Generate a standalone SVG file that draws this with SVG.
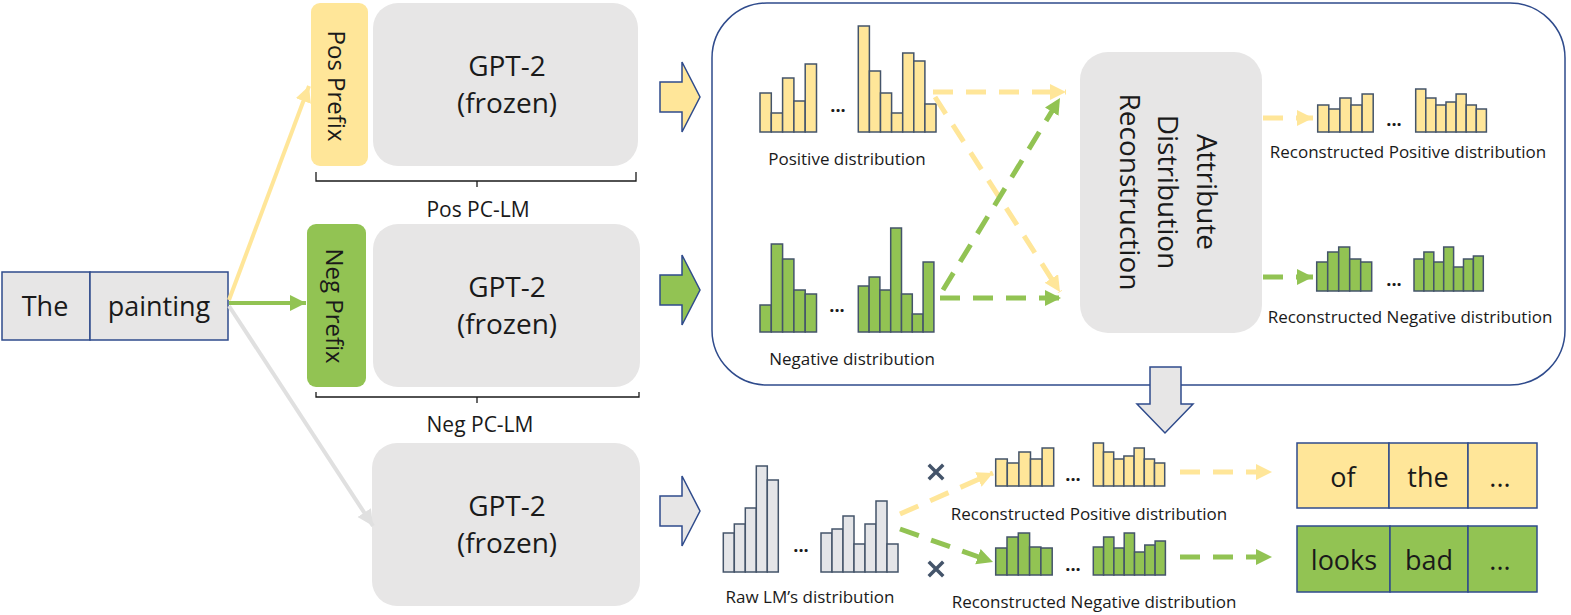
<svg xmlns="http://www.w3.org/2000/svg" width="1571" height="615" viewBox="0 0 1571 615">
<style>
text{font-family:"Open Sans","Noto Sans","Liberation Sans",sans-serif;fill:#1a1a1a}
.gbox{fill:#e7e6e6}
.tok{stroke:#2f4b8c;stroke-width:1.5}
.by rect{fill:#ffe699;stroke:#44546a;stroke-width:1.5}
.bg rect{fill:#92c353;stroke:#44546a;stroke-width:1.5}
.bw rect{fill:#e4e5e8;stroke:#44546a;stroke-width:1.5}
.blk{stroke:#2f4b8c;stroke-width:1.5;stroke-linejoin:miter}
.dy{stroke:#ffe699;stroke-width:5;stroke-dasharray:20 13;fill:none}
.dg{stroke:#92c353;stroke-width:5;stroke-dasharray:20 13;fill:none}
.lbl{font-size:17px;text-anchor:middle}
.dots{font-size:18px;font-weight:bold;text-anchor:middle}
.gpt{font-size:28px;text-anchor:middle}
.word{font-size:27px;text-anchor:middle}
.brace{fill:none;stroke:#1a1a1a;stroke-width:1.3}
.x{stroke:#44546a;stroke-width:3.5;stroke-linecap:square}
</style>
<defs>
<marker id="ay" markerUnits="userSpaceOnUse" markerWidth="18" markerHeight="18" refX="16" refY="8" orient="auto"><path d="M0,0 L16,8 L0,16 Z" fill="#ffe699"/></marker>
<marker id="ag" markerUnits="userSpaceOnUse" markerWidth="18" markerHeight="18" refX="16" refY="8" orient="auto"><path d="M0,0 L16,8 L0,16 Z" fill="#92c353"/></marker>
<marker id="aw" markerUnits="userSpaceOnUse" markerWidth="18" markerHeight="18" refX="16" refY="8" orient="auto"><path d="M0,0 L16,8 L0,16 Z" fill="#e0e0e0"/></marker>
</defs>

<g id="attr-panel">
<rect x="712" y="3" width="853" height="382" rx="55" fill="#ffffff" stroke="#2f4b8c" stroke-width="1.5"/>
</g>

<g id="input">
<rect class="gbox tok" x="2" y="272" width="88" height="68"/>
<rect class="gbox tok" x="90" y="272" width="138" height="68"/>
<text class="word" x="45" y="316">The</text>
<text class="word" x="159" y="316">painting</text>
</g>

<g id="pos-prefix">
<rect x="311" y="3" width="57" height="163" rx="9" fill="#ffe699"/>
<text transform="translate(328,86) rotate(90)" font-size="24" text-anchor="middle">Pos Prefix</text>
</g>
<g id="gpt-pos">
<rect class="gbox" x="373" y="3" width="265" height="163" rx="25"/>
<text class="gpt" x="507" y="76">GPT-2</text>
<text class="gpt" x="507" y="113">(frozen)</text>
</g>
<g id="pos-pclm">
<path class="brace" d="M316,172 V181 H636 V172 M477,181 V187"/>
<text x="478" y="217" font-size="21" text-anchor="middle">Pos PC-LM</text>
</g>

<g id="neg-prefix">
<rect x="307" y="224" width="59" height="163" rx="9" fill="#92c353"/>
<text transform="translate(326,306) rotate(90)" font-size="24" text-anchor="middle">Neg Prefix</text>
</g>
<g id="gpt-neg">
<rect class="gbox" x="373" y="224" width="267" height="163" rx="25"/>
<text class="gpt" x="507" y="297">GPT-2</text>
<text class="gpt" x="507" y="334">(frozen)</text>
</g>
<g id="neg-pclm">
<path class="brace" d="M316,392 V397 H639 V392 M477,397 V403"/>
<text x="480" y="432" font-size="21" text-anchor="middle">Neg PC-LM</text>
</g>

<g id="gpt-raw">
<rect class="gbox" x="372" y="443" width="268" height="163" rx="25"/>
<text class="gpt" x="507" y="516">GPT-2</text>
<text class="gpt" x="507" y="553">(frozen)</text>
</g>

<g id="block-arrows">
<path class="blk" fill="#ffe699" d="M660,82 H682 V62 L700,97 L682,132 V112 H660 Z"/>
<path class="blk" fill="#92c353" d="M660,275 H682 V255 L700,290 L682,325 V305 H660 Z"/>
<path class="blk" fill="#e7e6e6" d="M660,496 H682 V476 L700,511 L682,546 V526 H660 Z"/>
<path class="blk" fill="#e7e6e6" d="M1150,367 H1181 V404 H1193 L1165,433 L1137,404 H1150 Z"/>
</g>

<g id="pos-dist">
<g class="by">
<rect x="760" y="93" width="11.3" height="39"/><rect x="771.3" y="113" width="11.3" height="19"/><rect x="782.6" y="78" width="11.3" height="54"/><rect x="793.9" y="101" width="11.3" height="31"/><rect x="805.2" y="64" width="11.3" height="68"/>
<rect x="858.3" y="26" width="11.1" height="106"/><rect x="869.4" y="71" width="11.1" height="61"/><rect x="880.5" y="93" width="11.1" height="39"/><rect x="891.6" y="113" width="11.1" height="19"/><rect x="902.7" y="53" width="11.1" height="79"/><rect x="913.8" y="61" width="11.1" height="71"/><rect x="924.9" y="104" width="11.1" height="28"/>
</g>
<text class="dots" x="838" y="112">...</text>
<text class="lbl" x="847" y="165">Positive distribution</text>
</g>

<g id="neg-dist">
<g class="bg">
<rect x="760" y="305" width="11.3" height="27"/><rect x="771.3" y="244" width="11.3" height="88"/><rect x="782.6" y="259" width="11.3" height="73"/><rect x="793.9" y="290" width="11.3" height="42"/><rect x="805.2" y="294" width="11.3" height="38"/>
<rect x="858.3" y="286" width="10.8" height="46"/><rect x="869.1" y="277" width="10.8" height="55"/><rect x="879.9" y="290" width="10.8" height="42"/><rect x="890.7" y="228" width="10.8" height="104"/><rect x="901.5" y="294" width="10.8" height="38"/><rect x="912.3" y="314" width="10.8" height="18"/><rect x="923.1" y="262" width="10.8" height="70"/>
</g>
<text class="dots" x="837" y="312">...</text>
<text class="lbl" x="852" y="365">Negative distribution</text>
</g>

<g id="adr">
<rect class="gbox" x="1080" y="52" width="182" height="281" rx="28"/>
<g transform="translate(1197,192) rotate(90)" font-size="28" text-anchor="middle">
<text x="0" y="0">Attribute</text>
<text x="0" y="39">Distribution</text>
<text x="0" y="77">Reconstruction</text>
</g>
</g>

<g id="recon-pos-top">
<g class="by">
<rect x="1317.7" y="105" width="11.1" height="27"/><rect x="1328.8" y="109" width="11.1" height="23"/><rect x="1339.9" y="98" width="11.1" height="34"/><rect x="1351" y="105" width="11.1" height="27"/><rect x="1362.1" y="94" width="11.1" height="38"/>
<rect x="1415.7" y="89" width="10.1" height="43"/><rect x="1425.8" y="98" width="10.1" height="34"/><rect x="1435.9" y="105" width="10.1" height="27"/><rect x="1446" y="102" width="10.1" height="30"/><rect x="1456.1" y="94" width="10.1" height="38"/><rect x="1466.2" y="105" width="10.1" height="27"/><rect x="1476.3" y="109" width="10.1" height="23"/>
</g>
<text class="dots" x="1394" y="126">...</text>
<text class="lbl" x="1408" y="158">Reconstructed Positive distribution</text>
</g>

<g id="recon-neg-top">
<g class="bg">
<rect x="1316.7" y="262" width="11" height="29"/><rect x="1327.7" y="252" width="11" height="39"/><rect x="1338.7" y="247" width="11" height="44"/><rect x="1349.7" y="259" width="11" height="32"/><rect x="1360.7" y="262" width="11" height="29"/>
<rect x="1414" y="259" width="9.9" height="32"/><rect x="1423.9" y="252" width="9.9" height="39"/><rect x="1433.8" y="262" width="9.9" height="29"/><rect x="1443.7" y="247" width="9.9" height="44"/><rect x="1453.6" y="267" width="9.9" height="24"/><rect x="1463.5" y="259" width="9.9" height="32"/><rect x="1473.4" y="256" width="9.9" height="35"/>
</g>
<text class="dots" x="1394" y="286">...</text>
<text class="lbl" x="1410" y="323">Reconstructed Negative distribution</text>
</g>

<g id="raw-dist">
<g class="bw">
<rect x="723.3" y="533" width="11" height="39"/><rect x="734.3" y="524" width="11" height="48"/><rect x="745.3" y="508" width="11" height="64"/><rect x="756.3" y="466" width="11" height="106"/><rect x="767.3" y="480" width="11" height="92"/>
<rect x="821" y="533" width="11" height="39"/><rect x="832" y="529" width="11" height="43"/><rect x="843" y="516" width="11" height="56"/><rect x="854" y="544" width="11" height="28"/><rect x="865" y="524" width="11" height="48"/><rect x="876" y="501" width="11" height="71"/><rect x="887" y="544" width="11" height="28"/>
</g>
<text class="dots" x="801" y="552">...</text>
<text class="lbl" x="810" y="603">Raw LM’s distribution</text>
</g>

<g id="recon-pos-bottom">
<g class="by">
<rect x="995.7" y="459" width="11.6" height="27"/><rect x="1007.3" y="463" width="11.6" height="23"/><rect x="1018.9" y="452" width="11.6" height="34"/><rect x="1030.5" y="459" width="11.6" height="27"/><rect x="1042.1" y="448" width="11.6" height="38"/>
<rect x="1093.3" y="443" width="10.2" height="43"/><rect x="1103.5" y="452" width="10.2" height="34"/><rect x="1113.7" y="459" width="10.2" height="27"/><rect x="1123.9" y="456" width="10.2" height="30"/><rect x="1134.1" y="448" width="10.2" height="38"/><rect x="1144.3" y="459" width="10.2" height="27"/><rect x="1154.5" y="463" width="10.2" height="23"/>
</g>
<text class="dots" x="1073" y="481">...</text>
<text class="lbl" x="1089" y="520">Reconstructed Positive distribution</text>
</g>

<g id="recon-neg-bottom">
<g class="bg">
<rect x="995.7" y="548" width="11.3" height="27"/><rect x="1007" y="537" width="11.3" height="38"/><rect x="1018.3" y="533" width="11.3" height="42"/><rect x="1029.6" y="547" width="11.3" height="28"/><rect x="1040.9" y="548" width="11.3" height="27"/>
<rect x="1093.3" y="547" width="10.3" height="28"/><rect x="1103.6" y="537" width="10.3" height="38"/><rect x="1113.9" y="548" width="10.3" height="27"/><rect x="1124.2" y="533" width="10.3" height="42"/><rect x="1134.5" y="552" width="10.3" height="23"/><rect x="1144.8" y="545" width="10.3" height="30"/><rect x="1155.1" y="541" width="10.3" height="34"/>
</g>
<text class="dots" x="1073" y="571">...</text>
<text class="lbl" x="1094" y="608">Reconstructed Negative distribution</text>
</g>

<g id="out-pos">
<rect class="tok" fill="#ffe699" x="1297" y="443" width="92" height="65"/>
<rect class="tok" fill="#ffe699" x="1389" y="443" width="79" height="65"/>
<rect class="tok" fill="#ffe699" x="1468" y="443" width="69" height="65"/>
<text class="word" x="1343" y="487">of</text>
<text class="word" x="1428" y="487">the</text>
<text class="word" x="1500" y="487">...</text>
</g>
<g id="out-neg">
<rect class="tok" fill="#92c353" x="1297" y="526" width="93" height="66"/>
<rect class="tok" fill="#92c353" x="1390" y="526" width="78" height="66"/>
<rect class="tok" fill="#92c353" x="1468" y="526" width="69" height="66"/>
<text class="word" x="1344" y="570">looks</text>
<text class="word" x="1429" y="570">bad</text>
<text class="word" x="1500" y="570">...</text>
</g>

<g id="connectors">
<line x1="229" y1="300" x2="309" y2="86" stroke="#ffe699" stroke-width="4" marker-end="url(#ay)"/>
<line x1="229" y1="303" x2="306" y2="303" stroke="#92c353" stroke-width="4" marker-end="url(#ag)"/>
<line x1="229" y1="306" x2="373" y2="526" stroke="#e0e0e0" stroke-width="4" marker-end="url(#aw)"/>
<line class="dy" x1="933" y1="92" x2="1066" y2="92" marker-end="url(#ay)"/>
<line class="dy" x1="935" y1="97" x2="1060" y2="292" marker-end="url(#ay)"/>
<line class="dg" x1="943" y1="290" x2="1060" y2="98" marker-end="url(#ag)"/>
<line class="dg" x1="940" y1="298" x2="1061" y2="298" marker-end="url(#ag)"/>
<line class="dy" x1="1263" y1="118" x2="1313" y2="118" marker-end="url(#ay)"/>
<line class="dg" x1="1263" y1="277" x2="1313" y2="277" marker-end="url(#ag)"/>
<line class="dy" x1="900" y1="514" x2="993" y2="473" marker-end="url(#ay)"/>
<line class="dg" x1="900" y1="529" x2="993" y2="562" marker-end="url(#ag)"/>
<line class="dy" x1="1180" y1="472" x2="1272" y2="472" marker-end="url(#ay)"/>
<line class="dg" x1="1180" y1="557" x2="1272" y2="557" marker-end="url(#ag)"/>
<path class="x" d="M930,466 L942,478 M942,466 L930,478"/>
<path class="x" d="M930,563 L942,575 M942,563 L930,575"/>
</g>
</svg>
